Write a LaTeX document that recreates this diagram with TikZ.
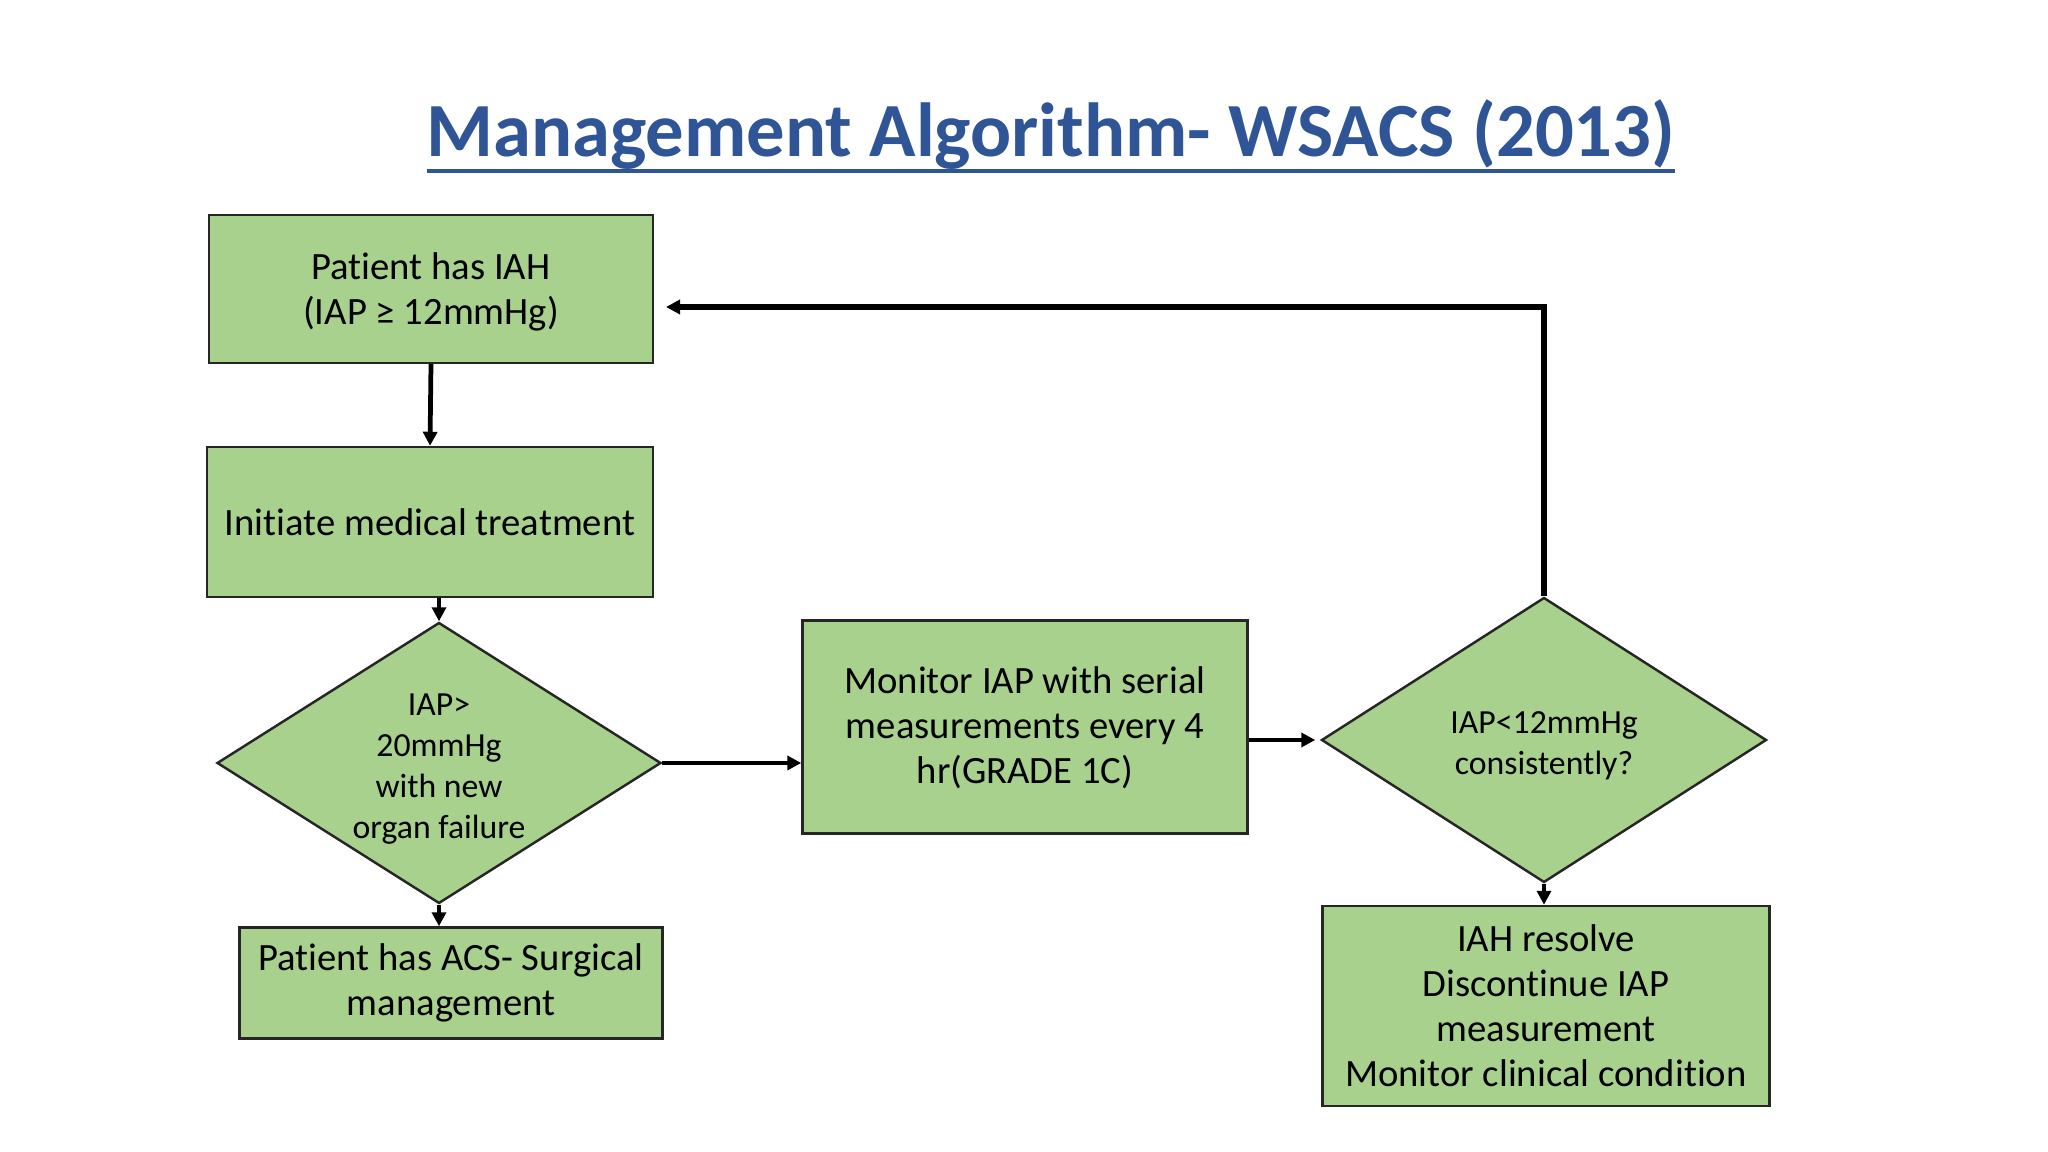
\documentclass[tikz,border=0pt]{standalone}
\usepackage{fontspec}
\setmainfont{Carlito}[Ligatures=NoCommon]
\usepackage{tikz}
\usetikzlibrary{shapes.geometric,arrows.meta,positioning,calc}
\usepackage{xcolor}
\definecolor{boxgreen}{RGB}{169,209,142}
\definecolor{titleblue}{RGB}{47,85,151}
\newcommand{\thickul}[1]{\setbox0\hbox{#1}\rlap{\rule[-4.6pt]{\wd0}{1.2pt}}\box0}
\newcommand{\lowered}[2]{\raisebox{-#1}[\height][\depth]{\begin{tabular}{@{}c@{}}#2\end{tabular}}}
\tikzset{
    stepbox/.style={draw=black!85, line width=0.7pt, fill=boxgreen, align=center,
        font=\fontsize{11}{12.8}\selectfont, inner sep=2pt},
    decision/.style={diamond, draw=black!85, line width=0.7pt, fill=boxgreen, align=center,
        font=\fontsize{9.6}{11.6}\selectfont, inner sep=0pt, aspect=1.58},
    flow/.style={line width=1.35pt, -{Triangle[length=1.4mm,width=1.4mm]}}
}

\begin{document}
\begin{tikzpicture}
    \useasboundingbox (0,0) rectangle (20.48,11.52);
    % Title
    \node[anchor=base, font=\fontsize{21.8}{26}\selectfont\bfseries, titleblue] (title) at (10.51,9.95)
        {\thickul{Management Algorithm- WSACS (2013)}};

    % Left column
    \node[stepbox, minimum width=4.44cm, minimum height=1.48cm] (iah) at (4.31,8.63)
        {\lowered{0.4mm}{Patient has IAH\\(IAP ≥ 12mmHg)}};
    \node[stepbox, minimum width=4.46cm, minimum height=1.50cm] (medical) at (4.30,6.30)
        {Initiate medical treatment};
    \node[decision, minimum width=4.44cm, minimum height=2.81cm] (organ) at (4.39,3.89)
        {\lowered{0.6mm}{IAP>\\20mmHg\\with new\\organ failure}};
    \node[stepbox, minimum width=4.23cm, minimum height=1.11cm] (acs) at (4.51,1.69)
        {Patient has ACS- Surgical\\management};

    % Middle and right
    \node[stepbox, minimum width=4.45cm, minimum height=2.13cm] (monitor) at (10.25,4.25)
        {\lowered{0.3mm}{Monitor IAP with serial\\measurements every 4\\hr(GRADE 1C)}};
    \node[decision, minimum width=4.45cm, minimum height=2.85cm] (consistent) at (15.44,4.12)
        {\lowered{0.6mm}{IAP<12mmHg\\consistently?}};
    \node[stepbox, minimum width=4.47cm, minimum height=2.00cm] (resolve) at (15.46,1.46)
        {IAH resolve\\Discontinue IAP\\measurement\\Monitor clinical condition};

    % Connectors
    \coordinate (back) at (6.66,8.45);
    \draw[flow] (iah.south) -- (medical.north);
    \draw[flow] (medical.south -| organ.north) -- (organ.north);
    \draw[flow] (organ.south) -- (organ.south |- acs.north);
    \draw[flow] (organ.east) -- (organ.east -| monitor.west);
    \draw[flow] (monitor.east |- consistent.west) -- ([xshift=-0.5mm]consistent.west);
    \draw[flow] (consistent.south) -- (consistent.south |- resolve.north);
    \draw[flow, line width=1.9pt] (consistent.north) |- (back);
\end{tikzpicture}
\end{document}
